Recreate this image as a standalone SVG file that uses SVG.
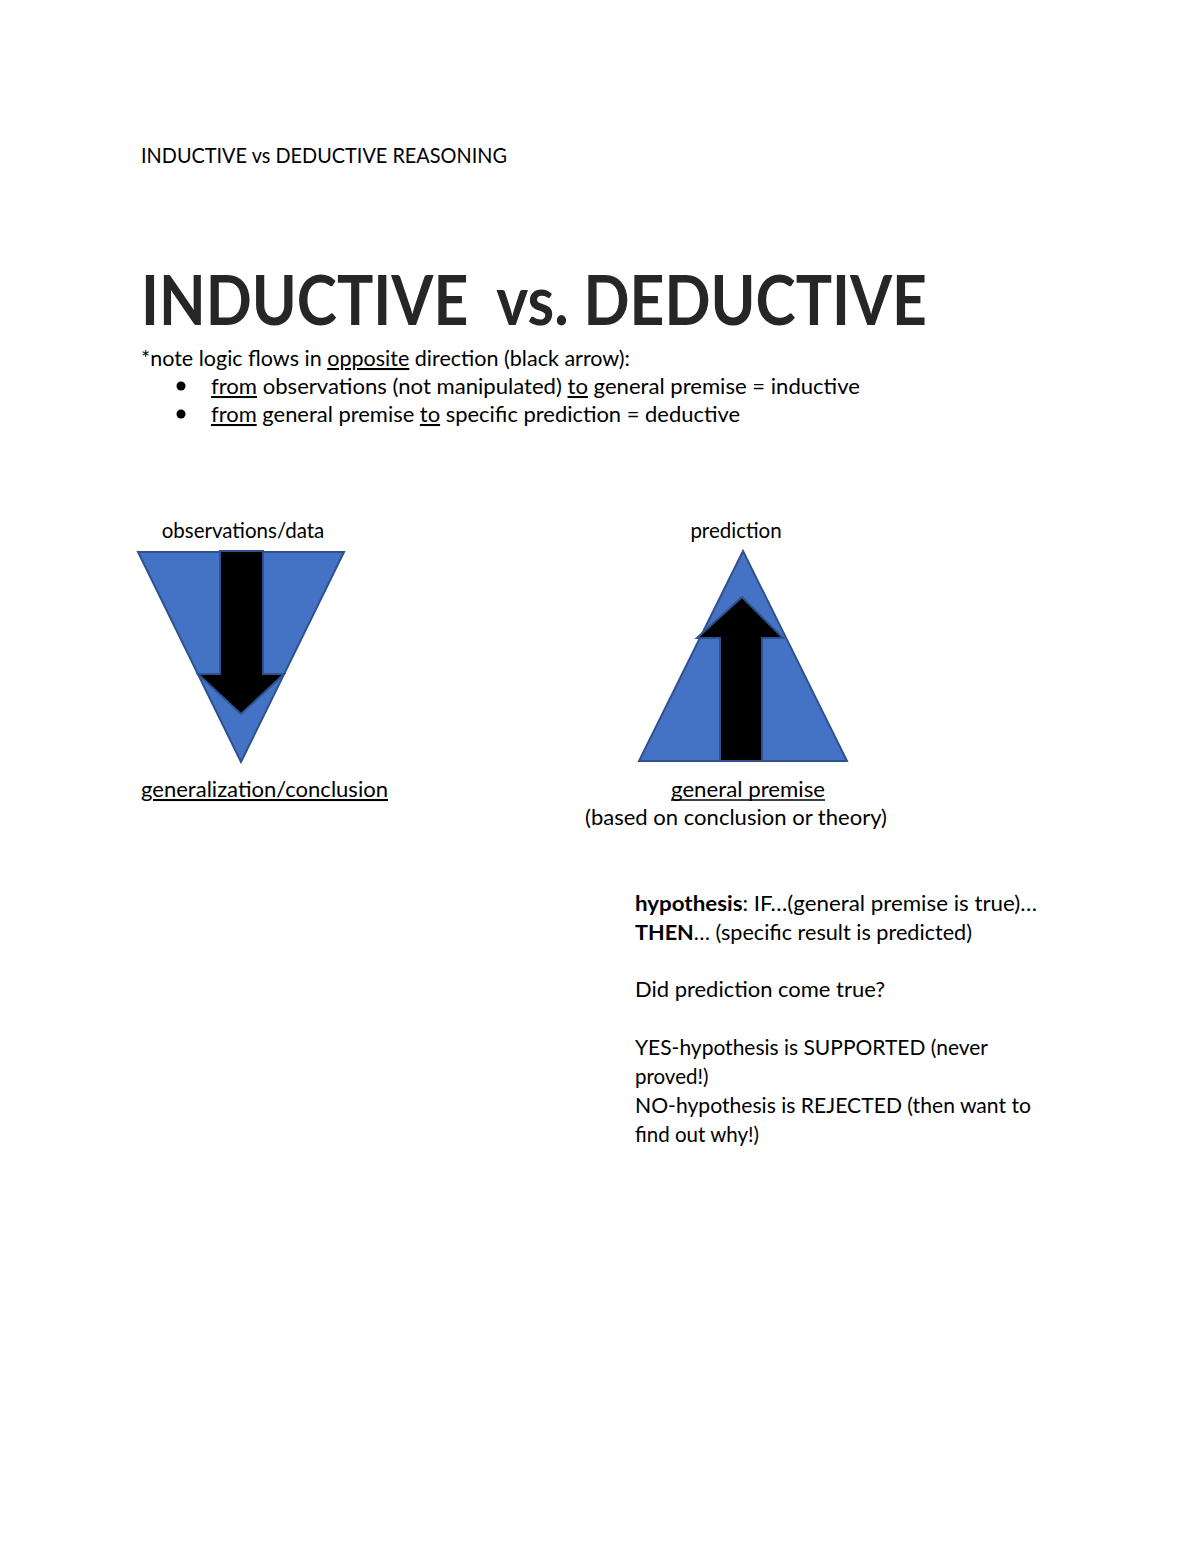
<svg xmlns="http://www.w3.org/2000/svg" width="1200" height="1553" viewBox="0 0 1200 1553">
<style>
text{font-family:Lato,"Open Sans","Liberation Sans",sans-serif;fill:#000;}
.t{font-size:20.5px;}
.u{text-decoration:underline;text-decoration-skip-ink:none;}
.b{font-weight:bold;}
.tri{fill:#4472C4;stroke:#2F528F;stroke-width:2;stroke-linejoin:miter;}
.arr{fill:#000;stroke:#2F528F;stroke-width:2;}
</style>
<rect width="1200" height="1553" fill="#fff"/>
<g id="header">
<text class="t" x="141" y="163" font-size="19.5px" textLength="366" lengthAdjust="spacingAndGlyphs">INDUCTIVE vs DEDUCTIVE REASONING</text>
</g>
<g id="title">
<text x="141" y="325" style="font-size:68px;font-weight:bold;fill:#262626" textLength="786" lengthAdjust="spacingAndGlyphs">INDUCTIVE &#160;vs. DEDUCTIVE</text>
</g>
<g id="notes">
<text class="t" x="141" y="366" textLength="489" lengthAdjust="spacingAndGlyphs">*note logic flows in <tspan class="u">opposite</tspan> direction (black arrow):</text>
<circle cx="181" cy="386" r="4.5" fill="#000"/>
<text class="t" x="211" y="394" textLength="649" lengthAdjust="spacingAndGlyphs"><tspan class="u">from</tspan> observations (not manipulated) <tspan class="u">to</tspan> general premise = inductive</text>
<circle cx="181" cy="414" r="4.5" fill="#000"/>
<text class="t" x="211" y="422" textLength="529" lengthAdjust="spacingAndGlyphs"><tspan class="u">from</tspan> general premise <tspan class="u">to</tspan> specific prediction = deductive</text>
</g>
<g id="inductive">
<text class="t" x="243" y="538" text-anchor="middle">observations/data</text>
<polygon class="tri" points="138,552 344,552 241,762"/>
<polygon class="arr" points="220,551 263,551 263,674 284,674 241,714 198,674 220,674"/>
<text class="t u" x="141" y="797" textLength="247" lengthAdjust="spacingAndGlyphs">generalization/conclusion</text>
</g>
<g id="deductive">
<text class="t" x="736" y="538" text-anchor="middle">prediction</text>
<polygon class="tri" points="743,551 847,761 639,761"/>
<polygon class="arr" points="742,597 783,638 762,638 762,761 720,761 720,638 697,638"/>
<text class="t" x="748" y="797" text-anchor="middle" textLength="154" lengthAdjust="spacingAndGlyphs">general premise</text>
<line x1="671" y1="800" x2="825" y2="800" stroke="#000" stroke-width="1.6"/>
<text class="t" x="736" y="825" text-anchor="middle" textLength="302" lengthAdjust="spacingAndGlyphs">(based on conclusion or theory)</text>
</g>
<g id="hypothesis">
<text class="t" x="635" y="911" textLength="402" lengthAdjust="spacingAndGlyphs"><tspan class="b">hypothesis</tspan>: IF…(general premise is true)…</text>
<text class="t" x="635" y="940" textLength="337" lengthAdjust="spacingAndGlyphs"><tspan class="b">THEN</tspan>… (specific result is predicted)</text>
<text class="t" x="635" y="997" textLength="250" lengthAdjust="spacingAndGlyphs">Did prediction come true?</text>
<text class="t" x="635" y="1055" textLength="353" lengthAdjust="spacingAndGlyphs">YES-hypothesis is SUPPORTED (never</text>
<text class="t" x="635" y="1084">proved!)</text>
<text class="t" x="635" y="1113" textLength="396" lengthAdjust="spacingAndGlyphs">NO-hypothesis is REJECTED (then want to</text>
<text class="t" x="635" y="1142">find out why!)</text>
</g>
<g id="connectors"></g>
</svg>
